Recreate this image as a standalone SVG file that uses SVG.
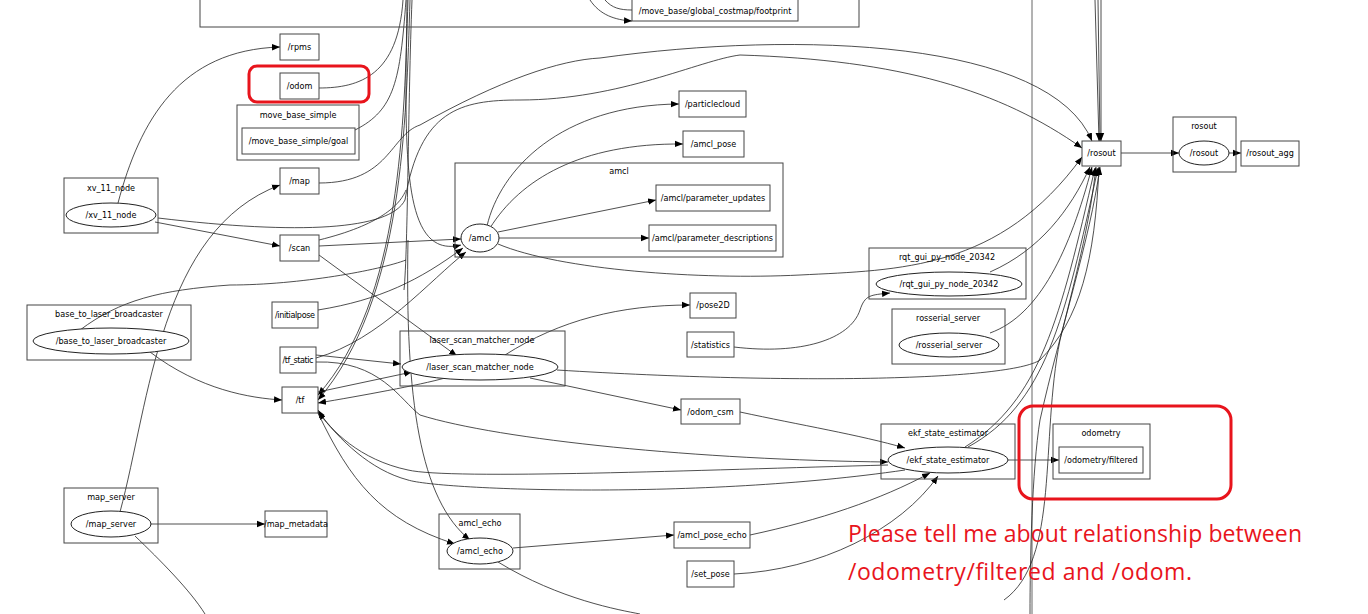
<svg xmlns="http://www.w3.org/2000/svg" width="1368" height="614" viewBox="0 0 1368 614">
<defs>
<marker id="a" viewBox="0 0 10 10" refX="10" refY="5" markerWidth="8" markerHeight="8" orient="auto" markerUnits="userSpaceOnUse"><path d="M0,1L10,5L0,9z" fill="#000"/></marker>
<style>
.c{fill:none;stroke:#444;stroke-width:1}
.t{fill:#fff;stroke:#444;stroke-width:1}
.n{fill:#fff;stroke:#222;stroke-width:1}
text{font-family:"DejaVu Sans Condensed","DejaVu Sans",sans-serif;font-size:9px;text-anchor:middle;fill:#000}
.e{fill:none;stroke:#222;stroke-width:0.8}
.ea{fill:none;stroke:#222;stroke-width:0.8;marker-end:url(#a)}
.red{fill:none;stroke:#e8141c;stroke-width:3}
.q{font-family:"Open Sans","DejaVu Sans",sans-serif;font-size:23px;fill:#e8141c;text-anchor:start}
</style>
</defs>
<rect width="1368" height="614" fill="#fff"/>
<line x1="1032" y1="0" x2="1032" y2="614" stroke="#666"/>
<g id="connectors">
<path class="ea" d="M118,203 C140,120 180,50 280,47"/>
<path class="e" d="M319,88 C360,88 398,75 403,0"/>
<path class="e" d="M355,130 C395,110 400,80 406,0"/>
<path class="ea" d="M408,0 C404,120 402,300 318,395"/>
<path class="ea" d="M410,0 C406,120 404,300 318,400"/>
<path class="ea" d="M407,0 C405,150 400,260 461,245"/>
<path class="e" d="M412,0 C408,100 408,250 404,290"/>
<path class="ea" d="M319,183 C390,183 390,135 420,125 C500,80 560,60 600,58 C800,30 1050,40 1092,141"/>
<path class="ea" d="M158,218 C300,235 390,230 405,200 C420,110 460,100 520,100 C620,100 700,60 740,55 C900,60 1000,90 1082,148"/>
<path class="ea" d="M155,222 L280,246"/>
<path class="ea" d="M319,246 L461,239"/>
<path class="ea" d="M319,255 L457,356"/>
<path class="e" d="M319,240 C380,225 400,205 406,190"/>
<path class="ea" d="M487,226 C500,170 560,105 679,104"/>
<path class="ea" d="M490,228 C520,180 580,143 683,144"/>
<path class="ea" d="M498,232 L656,200"/>
<path class="ea" d="M499,238 L649,238"/>
<path class="ea" d="M498,244 C560,270 700,280 800,275 C900,270 1000,270 1082,157"/>
<path class="ea" d="M318,310 C380,300 420,280 463,248"/>
<path class="ea" d="M150,352 C200,390 250,398 282,400"/>
<path class="e" d="M80,330 C120,300 160,290 230,285 C300,285 380,270 406,260"/>
<path class="ea" d="M120,512 C150,400 160,230 280,185"/>
<path class="ea" d="M150,524 L265,524"/>
<path class="e" d="M135,536 C160,560 190,590 205,614"/>
<path class="ea" d="M316,355 L401,364"/>
<path class="ea" d="M316,358 C380,340 430,280 466,252"/>
<path class="ea" d="M316,362 C380,360 400,400 420,415 C500,440 700,460 888,462"/>
<path class="ea" d="M318,392 L412,372"/>
<path class="ea" d="M445,378 C420,385 360,396 318,403"/>
<path class="ea" d="M505,355 C560,320 620,305 690,305"/>
<path class="ea" d="M530,378 L681,410"/>
<path class="ea" d="M734,347 C800,355 850,340 860,310 C865,295 870,295 890,293"/>
<path class="ea" d="M740,412 C800,425 860,435 905,448"/>
<path class="ea" d="M888,465 C700,470 450,480 408,470 C360,460 330,430 318,410"/>
<path class="ea" d="M905,470 C700,500 440,490 408,480 C370,470 340,440 318,412"/>
<path class="ea" d="M318,413 C350,480 380,520 455,544"/>
<path class="ea" d="M408,240 C405,400 420,500 470,540"/>
<path class="ea" d="M513,548 L674,535"/>
<path class="e" d="M498,562 C560,600 620,610 640,614"/>
<path class="ea" d="M750,535 C820,520 880,500 930,473"/>
<path class="ea" d="M734,574 C820,570 900,530 938,476"/>
<path class="ea" d="M1008,460 L1059,460"/>
<path class="ea" d="M965,447 C1040,400 1060,320 1095,168"/>
<path class="ea" d="M968,447 C1045,405 1065,320 1098,168"/>
<path class="ea" d="M990,272 C1040,250 1070,210 1090,167"/>
<path class="ea" d="M990,333 C1040,315 1070,250 1092,167"/>
<path class="ea" d="M557,370 C800,385 1010,380 1040,360 C1080,320 1095,260 1099,167"/>
<path class="ea" d="M1030,614 C1030,560 1032,470 1040,420 C1060,330 1090,240 1100,167"/>
<path class="ea" d="M1004,600 C1060,560 1040,440 1060,340 C1080,260 1090,220 1096,167"/>
<path class="ea" d="M1095,0 L1099,141"/>
<path class="ea" d="M1098,0 L1100,141"/>
<path class="ea" d="M1101,0 L1101,141"/>
<path class="ea" d="M1121,153 L1179,153"/>
<path class="ea" d="M1229,153 L1241,153"/>
<path class="ea" d="M590,0 C600,15 615,20 632,21"/>
<path class="e" d="M605,0 C612,8 620,10 632,10"/>
</g>
<g id="top_cluster"><rect class="c" x="200" y="-2" width="659" height="29"/><rect class="t" x="632" y="-2" width="166" height="23"/><text x="715" y="14">/move_base/global_costmap/footprint</text></g>
<g id="rpms"><rect class="t" x="280" y="34" width="39" height="26"/><text x="299.5" y="50">/rpms</text></g>
<g id="odom"><rect class="t" x="280" y="73" width="39" height="26"/><text x="299.5" y="89">/odom</text></g>
<g id="move_base_simple"><rect class="c" x="237" y="105" width="122" height="55"/><text x="298" y="118">move_base_simple</text><rect class="t" x="242" y="128" width="113" height="26"/><text x="298.5" y="144">/move_base_simple/goal</text></g>
<g id="map"><rect class="t" x="280" y="168" width="39" height="26"/><text x="299.5" y="184">/map</text></g>
<g id="xv_11_node"><rect class="c" x="64" y="178" width="94" height="55"/><text x="111" y="191">xv_11_node</text><ellipse class="n" cx="111" cy="215" rx="45" ry="12"/><text x="111" y="218">/xv_11_node</text></g>
<g id="scan"><rect class="t" x="280" y="235" width="39" height="26"/><text x="299.5" y="251">/scan</text></g>
<g id="particlecloud"><rect class="t" x="679" y="91" width="67" height="26"/><text x="712.5" y="107">/particlecloud</text></g>
<g id="amcl_pose"><rect class="t" x="683" y="131" width="61" height="26"/><text x="713.5" y="147">/amcl_pose</text></g>
<g id="amcl"><rect class="c" x="455" y="163" width="328" height="94"/><text x="619" y="174">amcl</text><ellipse class="n" cx="480" cy="238" rx="19" ry="14"/><text x="480" y="241">/amcl</text><rect class="t" x="656" y="185" width="114" height="26"/><text x="713" y="201">/amcl/parameter_updates</text><rect class="t" x="649" y="225" width="127" height="26"/><text x="712.5" y="241">/amcl/parameter_descriptions</text></g>
<g id="initialpose"><rect class="t" x="272" y="302" width="46" height="26"/><text x="295" y="318" textLength="40">/initialpose</text></g>
<g id="base_to_laser_broadcaster"><rect class="c" x="27" y="305" width="164" height="55"/><text x="109" y="317">base_to_laser_broadcaster</text><ellipse class="n" cx="111" cy="341" rx="78" ry="13"/><text x="111" y="344">/base_to_laser_broadcaster</text></g>
<g id="tf_static"><rect class="t" x="280" y="347" width="36" height="26"/><text x="298" y="363" textLength="31">/tf_static</text></g>
<g id="tf"><rect class="t" x="282" y="387" width="36" height="26"/><text x="300" y="403">/tf</text></g>
<g id="laser_scan_matcher_node"><rect class="c" x="400" y="331" width="165" height="55"/><text x="482" y="343">laser_scan_matcher_node</text><ellipse class="n" cx="480" cy="367" rx="78" ry="13"/><text x="480" y="370">/laser_scan_matcher_node</text></g>
<g id="pose2D"><rect class="t" x="690" y="293" width="46" height="25"/><text x="713" y="308">/pose2D</text></g>
<g id="statistics"><rect class="t" x="687" y="332" width="47" height="25"/><text x="710.5" y="348">/statistics</text></g>
<g id="odom_csm"><rect class="t" x="681" y="399" width="59" height="25"/><text x="710.5" y="415">/odom_csm</text></g>
<g id="map_server"><rect class="c" x="64" y="488" width="94" height="55"/><text x="111" y="500">map_server</text><ellipse class="n" cx="111" cy="524" rx="40" ry="13"/><text x="111" y="527">/map_server</text></g>
<g id="map_metadata"><rect class="t" x="265" y="511" width="62" height="26"/><text x="296" y="527">/map_metadata</text></g>
<g id="amcl_echo"><rect class="c" x="439" y="514" width="81" height="55"/><text x="480" y="526">amcl_echo</text><ellipse class="n" cx="480" cy="551" rx="33" ry="13"/><text x="480" y="554">/amcl_echo</text></g>
<g id="amcl_pose_echo"><rect class="t" x="674" y="522" width="76" height="26"/><text x="712" y="538">/amcl_pose_echo</text></g>
<g id="set_pose"><rect class="t" x="687" y="561" width="47" height="26"/><text x="710.5" y="577">/set_pose</text></g>
<g id="rqt_gui_py_node_20342"><rect class="c" x="869" y="248" width="157" height="51"/><text x="947" y="260">rqt_gui_py_node_20342</text><ellipse class="n" cx="949" cy="284" rx="73" ry="12"/><text x="949" y="287">/rqt_gui_py_node_20342</text></g>
<g id="rosserial_server"><rect class="c" x="892" y="309" width="113" height="55"/><text x="948" y="321">rosserial_server</text><ellipse class="n" cx="949" cy="345" rx="50" ry="12"/><text x="949" y="348">/rosserial_server</text></g>
<g id="rosout_topic"><rect class="t" x="1082" y="141" width="39" height="25"/><text x="1101.5" y="156">/rosout</text></g>
<g id="rosout"><rect class="c" x="1173" y="117" width="63" height="55"/><text x="1204" y="129">rosout</text><ellipse class="n" cx="1204" cy="153" rx="25" ry="12"/><text x="1204" y="156">/rosout</text></g>
<g id="rosout_agg"><rect class="t" x="1241" y="141" width="58" height="25"/><text x="1270" y="156">/rosout_agg</text></g>
<g id="ekf_state_estimator"><rect class="c" x="881" y="424" width="134" height="55"/><text x="948" y="436">ekf_state_estimator</text><ellipse class="n" cx="948" cy="460" rx="60" ry="13"/><text x="948" y="463">/ekf_state_estimator</text></g>
<g id="odometry"><rect class="c" x="1053" y="424" width="97" height="55"/><text x="1101" y="436">odometry</text><rect class="t" x="1059" y="447" width="84" height="26"/><text x="1101" y="463">/odometry/filtered</text></g>
<g id="annotations">
<rect class="red" x="249" y="66" width="120" height="36" rx="8"/>
<rect class="red" x="1019" y="406" width="212" height="93" rx="14"/>
<text class="q" x="848" y="542" textLength="454">Please tell me about relationship between</text>
<text class="q" x="848" y="580" textLength="344">/odometry/filtered and /odom.</text>
</g>
</svg>
